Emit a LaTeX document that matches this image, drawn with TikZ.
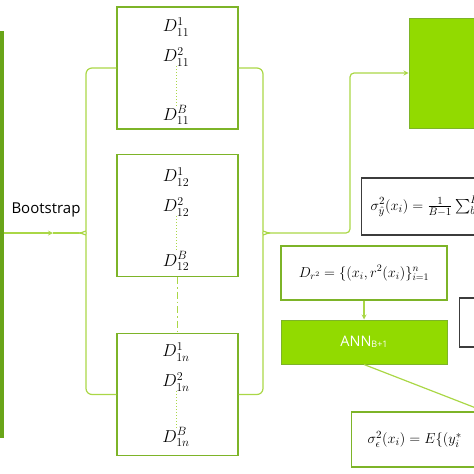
\documentclass[tikz,border=0pt]{standalone}
\usepackage{amsmath}
\usepackage{fontspec}
\newfontfamily\sanstexto{Open Sans}
\definecolor{verdelinea}{RGB}{170,215,70}
\definecolor{verdeborde}{RGB}{125,180,40}
\definecolor{verdelleno}{RGB}{146,218,0}
\definecolor{verdeoscuro}{RGB}{105,165,25}
\definecolor{grisborde}{RGB}{60,60,60}

\begin{document}
\begin{tikzpicture}[x=1pt,y=-1pt]

    \tikzset{conjunto/.style = {shape=rectangle,draw=verdeborde,line width=1.4pt,minimum width=121pt,minimum height=122pt}}
    \tikzset{etiqueta/.style = {inner sep=0pt,font=\fontsize{17}{19}\selectfont}}
    \tikzset{caja/.style = {shape=rectangle,draw=verdeborde,line width=1.4pt,font=\fontsize{15.5}{17}\selectfont}}
    \tikzset{cajanegra/.style = {shape=rectangle,draw=grisborde,line width=1.4pt,font=\fontsize{15.5}{17}\selectfont}}
    \tikzset{verde/.style = {shape=rectangle,fill=verdelleno,draw=verdeborde,line width=1pt}}
    \tikzset{linea/.style = {draw=verdelinea,line width=1.2pt}}
    \tikzset{flecha/.style = {->,>=stealth,draw=verdelinea,line width=1.2pt}}
    \tikzset{puntos/.style = {draw=verdelinea,line width=1pt,dotted}}

    \clip (0,0) rectangle (474,474);

    %entrada
    \node [verde,fill=verdeoscuro,draw=verdeoscuro,minimum width=46pt,minimum height=406pt] (entrada) at (-20,234) {};
    \node [inner sep=0pt,font=\sanstexto\fontsize{15}{17}\selectfont] (bootstrap) at (46,210) {Bootstrap};
    \coordinate (medio) at (53,233);
    \coordinate (llaveizq) at (79,233);
    \draw [flecha] (entrada.east |- medio) -- (medio);
    \draw [linea] (medio) -- (llaveizq);


    %conjuntos bootstrap
    \node [conjunto] (conjunto1) at (177.5,68) {};
    \node [etiqueta] (d111) at (176,27) {$D_{11}^{1}$};
    \node [etiqueta] (d211) at (176,57) {$D_{11}^{2}$};
    \node [etiqueta] (dB11) at (176,115) {$D_{11}^{B}$};
    \draw [puntos] (d211.south) -- (d211.south |- dB11.north);

    \node [conjunto] (conjunto2) at (177.5,215.5) {};
    \node [etiqueta] (d112) at (176,177) {$D_{12}^{1}$};
    \node [etiqueta] (d212) at (176,207) {$D_{12}^{2}$};
    \node [etiqueta] (dB12) at (176,261) {$D_{12}^{B}$};
    \draw [puntos] (d212.south) -- (d212.south |- dB12.north);

    \node [conjunto] (conjunto3) at (177.5,394.5) {};
    \node [etiqueta] (d11n) at (176,352) {$D_{1n}^{1}$};
    \node [etiqueta] (d21n) at (176,382) {$D_{1n}^{2}$};
    \node [etiqueta] (dB1n) at (176,437) {$D_{1n}^{B}$};
    \draw [puntos] (d21n.south) -- (d21n.south |- dB1n.north);

    \draw [linea,line width=1.5pt,dash pattern=on 7pt off 3pt on 1.5pt off 3pt] (conjunto2.south) -- (conjunto3.north);


    %llave izquierda
    \draw [linea,rounded corners=6] (conjunto1.west) -- (86,68) -- (86,226)
        to[out=-90,in=0] (llaveizq);
    \draw [linea,rounded corners=6] (conjunto3.west) -- (86,394.5) -- (86,240)
        to[out=90,in=0] (llaveizq);


    %llave derecha
    \coordinate (llaveder) at (270,233);
    \draw [linea,rounded corners=6] (conjunto1.east) -- (263,68) -- (263,226)
        to[out=-90,in=180] (llaveder);
    \draw [linea,rounded corners=6] (conjunto3.east) -- (263,394.5) -- (263,240)
        to[out=90,in=180] (llaveder);

    \node [verde,minimum width=100pt,minimum height=110pt] (red1) at (459,73) {};
    \coordinate (codo) at (350,150);
    \draw [flecha,rounded corners=4] (llaveder) -| (codo) |- (red1.west);


    %varianza de la prediccion
    \node [cajanegra,anchor=west,minimum width=160pt,minimum height=57pt,inner xsep=9pt,align=left,text width=142pt] (varianza) at (361,206.5)
        {$\sigma_{\hat{y}}^{2}(x_i) = \frac{1}{B-1}\sum_{b=1}^{B}$};


    %residuos
    \node [caja,minimum width=166pt,minimum height=54pt,font=\fontsize{14}{16}\selectfont] (datosr) at (364,273)
        {$D_{r^2} = \{(x_i, r^2(x_i)\}_{i=1}^{n}$};
    \node [verde,minimum width=166pt,minimum height=44pt,text=white,font=\sanstexto\fontsize{14.5}{16}\selectfont] (ann) at (364,342)
        {ANN\raisebox{-1.5pt}{\fontsize{9}{10}\selectfont B+1}};
    \draw [flecha] (datosr) -- (ann);

    \node [cajanegra,anchor=west,minimum width=60pt,minimum height=49pt] (cajader) at (459,322.5) {};

    \coordinate (fuera) at (530,429);
    \draw [linea] (ann.south) -- (fuera);

    \node [caja,anchor=west,minimum width=160pt,minimum height=55pt,inner xsep=16pt,align=left,text width=128pt] (errorvar) at (351,439.5)
        {$\sigma_{\epsilon}^{2}(x_i) = E\{(y_i^{*}$};

\end{tikzpicture}
\end{document}
